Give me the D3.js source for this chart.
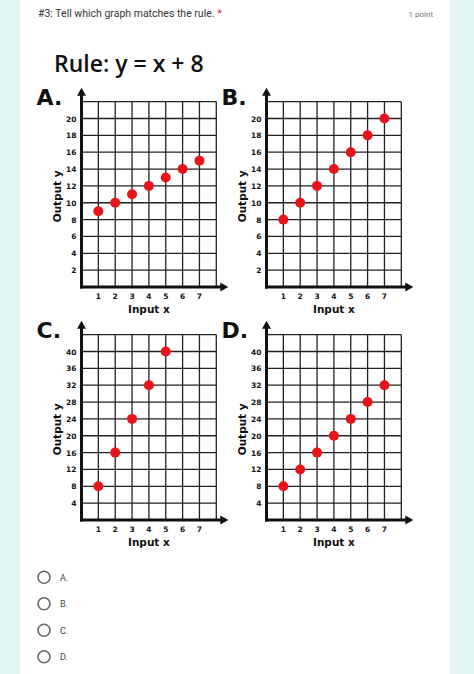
<!DOCTYPE html>
<html><head><meta charset="utf-8">
<script src="https://cdn.jsdelivr.net/npm/d3@7"></script>
<style>body{margin:0;background:#e3f5f2;}</style>
</head><body>
<script>
var xValues = [1, 2, 3, 4, 5, 6, 7];
var yA = [9, 10, 11, 12, 13, 14, 15];
var yB = [8, 10, 12, 14, 16, 18, 20];
var yC = [8, 16, 24, 32, 40];
var yD = [8, 12, 16, 20, 24, 28, 32];
var ticksSmall = [2, 4, 6, 8, 10, 12, 14, 16, 18, 20];
var ticksBig = [4, 8, 12, 16, 20, 24, 28, 32, 36, 40];
var options = ["A.", "B.", "C.", "D."];

var graphs = [
  { name: "A.", ys: yA, max: 22, ticks: ticksSmall, ox: 81.5, oy: 287 },
  { name: "B.", ys: yB, max: 22, ticks: ticksSmall, ox: 266.5, oy: 287 },
  { name: "C.", ys: yC, max: 44, ticks: ticksBig, ox: 81.5, oy: 520 },
  { name: "D.", ys: yD, max: 44, ticks: ticksBig, ox: 266.5, oy: 520 }
];

var svg = d3.select("body").append("svg").attr("width", 474).attr("height", 674);
svg.append("rect").attr("x", 20).attr("y", 0).attr("width", 430).attr("height", 674).attr("fill", "#fff");

var head = svg.append("text").attr("x", 38).attr("y", 17).attr("font-family", "Roboto").attr("font-size", 10.5).attr("fill", "#333");
head.append("tspan").text("#3: Tell which graph matches the rule. ");
head.append("tspan").attr("fill", "#d93025").text("*");
svg.append("text").attr("x", 433).attr("y", 17).attr("text-anchor", "end").attr("font-family", "Roboto")
  .attr("font-size", 8).attr("fill", "#777").text("1 point");
svg.append("text").attr("x", 54).attr("y", 72).attr("font-family", "Open Sans").attr("font-weight", 600)
  .attr("font-size", 23).attr("fill", "#111").text("Rule: y = x + 8");

var cell = 16.85, w = cell * 8, h = cell * 11;
var font = "DejaVu Sans";

graphs.forEach(function (g) {
  var x = d3.scaleLinear().domain([0, 8]).range([g.ox, g.ox + w]);
  var y = d3.scaleLinear().domain([0, g.max]).range([g.oy, g.oy - h]);
  var gg = svg.append("g");
  var step = g.max / 11;
  gg.selectAll(".v").data(d3.range(1, 9)).enter().append("line")
    .attr("x1", function (d) { return x(d); }).attr("x2", function (d) { return x(d); })
    .attr("y1", y(0)).attr("y2", y(g.max)).attr("stroke", "#222").attr("stroke-width", 1.3);
  gg.selectAll(".h").data(d3.range(1, 12)).enter().append("line")
    .attr("y1", function (d) { return y(d * step); }).attr("y2", function (d) { return y(d * step); })
    .attr("x1", x(0)).attr("x2", x(8)).attr("stroke", "#222").attr("stroke-width", 1.3);
  // axes with arrows
  gg.append("line").attr("x1", x(0)).attr("x2", x(0)).attr("y1", y(0) + 1.5).attr("y2", y(g.max) - 8)
    .attr("stroke", "#111").attr("stroke-width", 3);
  gg.append("path").attr("d", "M" + (x(0) - 4.5) + "," + (y(g.max) - 6) + "L" + x(0) + "," + (y(g.max) - 14) + "L" + (x(0) + 4.5) + "," + (y(g.max) - 6) + "Z").attr("fill", "#111");
  gg.append("line").attr("x1", x(0) - 1.5).attr("x2", x(8) + 6).attr("y1", y(0)).attr("y2", y(0))
    .attr("stroke", "#111").attr("stroke-width", 3);
  gg.append("path").attr("d", "M" + (x(8) + 4) + "," + (y(0) - 4.5) + "L" + (x(8) + 12) + "," + y(0) + "L" + (x(8) + 4) + "," + (y(0) + 4.5) + "Z").attr("fill", "#111");
  // tick labels
  gg.selectAll(".yt").data(g.ticks).enter().append("text")
    .attr("x", x(0) - 5).attr("y", function (d) { return y(d) + 3; }).attr("text-anchor", "end")
    .attr("font-family", font).attr("font-weight", "bold").attr("font-size", 7.5).attr("fill", "#111")
    .text(function (d) { return d; });
  gg.selectAll(".xt").data(xValues).enter().append("text")
    .attr("x", function (d) { return x(d); }).attr("y", y(0) + 12).attr("text-anchor", "middle")
    .attr("font-family", font).attr("font-weight", "bold").attr("font-size", 7.5).attr("fill", "#111")
    .text(function (d) { return d; });
  gg.append("text").attr("x", x(4)).attr("y", y(0) + 26).attr("text-anchor", "middle")
    .attr("font-family", font).attr("font-weight", "bold").attr("font-size", 10.5).attr("fill", "#111").text("Input x");
  gg.append("text").attr("transform", "translate(" + (x(0) - 21) + "," + (y(g.max / 2) + 2) + ") rotate(-90)")
    .attr("text-anchor", "middle").attr("font-family", font).attr("font-weight", "bold")
    .attr("font-size", 10.5).attr("fill", "#111").text("Output y");
  gg.append("text").attr("x", x(0) - 45).attr("y", y(g.max) + 3).attr("font-family", font)
    .attr("font-weight", "bold").attr("font-size", 22).attr("fill", "#111").text(g.name);
  gg.selectAll(".dot").data(g.ys).enter().append("circle")
    .attr("cx", function (d, i) { return x(xValues[i]); }).attr("cy", function (d) { return y(d); })
    .attr("r", 5).attr("fill", "#e8141a");
});

var oy = d3.scaleBand().domain(options).range([564, 670]);
var opt = svg.selectAll(".opt").data(options).enter().append("g")
  .attr("transform", function (d) { return "translate(0," + (oy(d) + oy.bandwidth() / 2) + ")"; });
opt.append("circle").attr("cx", 44).attr("cy", 0).attr("r", 6).attr("fill", "none").attr("stroke", "#666").attr("stroke-width", 1.6);
opt.append("text").attr("x", 60).attr("y", 3.5).attr("font-family", "Roboto").attr("font-size", 9).attr("fill", "#444")
  .text(function (d) { return d; });
</script>
</body></html>
